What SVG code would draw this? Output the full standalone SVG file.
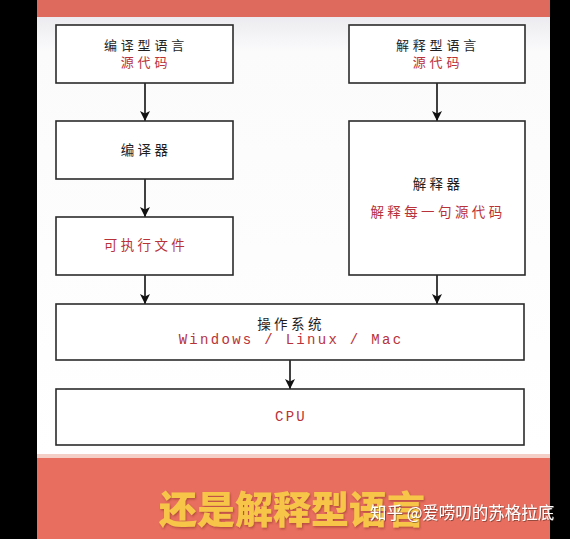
<svg xmlns="http://www.w3.org/2000/svg" width="570" height="539" viewBox="0 0 570 539">
<defs>
<style>
.box{fill:#ffffff;stroke:#2b2b2b;stroke-width:1.6}
.cn{font-family:"Noto Sans CJK SC","Noto Sans",sans-serif;font-size:13.5px;fill:#1e1e1e;text-anchor:middle;letter-spacing:3.4px}
.sm{font-size:13px;letter-spacing:3.8px}
.red{fill:#b8323a}
.mono{font-family:"Liberation Mono","DejaVu Sans Mono",monospace;font-size:14px;fill:#b8323a;text-anchor:middle;letter-spacing:2.3px}
.conn{stroke:#111;stroke-width:1.6;fill:none;marker-end:url(#ah)}
</style>
<marker id="ah" viewBox="0 0 10 10" refX="10" refY="5" markerWidth="10" markerHeight="10" markerUnits="userSpaceOnUse" orient="auto">
<path d="M0,0 L10,5 L0,10 L2.5,5 Z" fill="#111"/>
</marker>
<linearGradient id="bg" x1="0" y1="0" x2="0" y2="1">
<stop offset="0" stop-color="#ececf0"/>
<stop offset="0.08" stop-color="#fbfbfc"/>
<stop offset="1" stop-color="#ffffff"/>
</linearGradient>
<filter id="sh" x="-10%" y="-30%" width="120%" height="160%">
<feDropShadow dx="1" dy="1.5" stdDeviation="0.8" flood-color="#8a3020" flood-opacity="0.55"/>
</filter>
<filter id="sh2" x="-10%" y="-30%" width="120%" height="160%">
<feDropShadow dx="0.8" dy="0.8" stdDeviation="0.6" flood-color="#3a1a10" flood-opacity="0.6"/>
</filter>
</defs>
<rect x="0" y="0" width="570" height="539" fill="#000"/>
<rect x="37" y="0" width="513" height="17" fill="#dd6a5c"/>
<rect x="37" y="17" width="513" height="440" fill="url(#bg)"/>
<rect x="37" y="454" width="513" height="4" fill="#f3cfc8"/>
<rect x="37" y="458" width="513" height="81" fill="#e86f60"/>

<g id="connectors">
<line class="conn" x1="145" y1="83" x2="145" y2="121"/>
<line class="conn" x1="145" y1="179" x2="145" y2="217"/>
<line class="conn" x1="145" y1="275" x2="145" y2="304"/>
<line class="conn" x1="437" y1="83" x2="437" y2="121"/>
<line class="conn" x1="437" y1="275" x2="437" y2="304"/>
<line class="conn" x1="290" y1="360" x2="290" y2="389"/>
</g>

<g id="n-compiled">
<rect class="box" x="56" y="25" width="177" height="58"/>
<text class="cn sm" x="146" y="50">编译型语言</text>
<text class="cn sm red" x="146" y="67">源代码</text>
</g>
<g id="n-interpreted">
<rect class="box" x="349" y="25" width="176" height="58"/>
<text class="cn sm" x="438" y="50">解释型语言</text>
<text class="cn sm red" x="438" y="67">源代码</text>
</g>
<g id="n-compiler">
<rect class="box" x="56" y="121" width="177" height="58"/>
<text class="cn" x="146" y="155">编译器</text>
</g>
<g id="n-exe">
<rect class="box" x="56" y="217" width="177" height="58"/>
<text class="cn red" x="146" y="250">可执行文件</text>
</g>
<g id="n-interpreter">
<rect class="box" x="349" y="121" width="176" height="154"/>
<text class="cn" x="438" y="189">解释器</text>
<text class="cn red" x="438" y="217">解释每一句源代码</text>
</g>
<g id="n-os">
<rect class="box" x="56" y="304" width="468" height="56"/>
<text class="cn" x="291" y="329">操作系统</text>
<text class="mono" x="291" y="344">Windows / Linux / Mac</text>
</g>
<g id="n-cpu">
<rect class="box" x="56" y="389" width="468" height="56"/>
<text class="mono" x="291" y="421">CPU</text>
</g>

<g id="caption">
<text x="292" y="523" font-family="Noto Sans CJK SC,sans-serif" font-size="38" font-weight="900" fill="#f7c64a" text-anchor="middle" filter="url(#sh)">还是解释型语言</text>
<text x="370" y="519" font-family="Noto Sans CJK SC,sans-serif" font-size="16.5" fill="#ffffff" filter="url(#sh2)">知乎 @爱唠叨的苏格拉底</text>
</g>
</svg>
